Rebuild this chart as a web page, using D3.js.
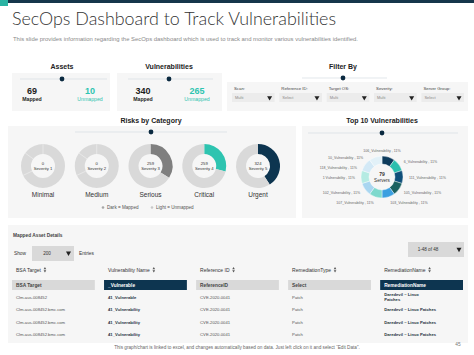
<!DOCTYPE html>
<html><head><meta charset="utf-8">
<script src="https://cdn.jsdelivr.net/npm/d3@7"></script>
<style>html,body{margin:0;padding:0;background:#fff;} svg{display:block;font-family:"Liberation Sans",Arial,sans-serif;}</style>
</head><body><svg id="c" width="474" height="355"></svg>
<script>
// ---------------- DATA ----------------
const titleText = "SecOps Dashboard to Track Vulnerabilities";
const subtitleText = "This slide provides information regarding the SecOps dashboard which is used to track and monitor various vulnerabilities identified.";
const countLabels = ["Mapped", "Unmapped"];
const assetValues = [69, 10];
const vulnValues = [340, 265];
const filterLabels = ["Scan:", "Reference ID:", "Target OS:", "Severity:", "Server Group:"];
const filterValues = ["Multi", "Select", "Multi", "Multi", "Select"];
const riskCategories = ["Minimal", "Medium", "Serious", "Critical", "Urgent"];
const severityLabels = ["Severity 1", "Severity 2", "Severity 3", "Severity 4", "Severity 5"];
const severityTotals = [0, 0, 259, 259, 324];
const severityMapped = [0, 0, 88, 75, 133];
const legendLabels = ["Dark = Mapped", "Light = Unmapped"];
const topVulnNames = ["106_Vulnerability", "6_Vulnerability", "111_Vulnerability", "105_Vulnerability", "103_Vulnerability",
  "107_Vulnerability", "102_Vulnerability", "1 Vulnerability", "118_Vulnerability", "10_Vulnerability"];
const topVulnShares = [11, 11, 11, 11, 11, 11, 11, 11, 11, 11];
const serverCount = 79;
const pageInfo = "1-48 of 48";
const showEntries = "200";
const tableColumns = ["BSA Target", "Vulnerability Name", "Reference ID", "RemediationType", "RemediationName"];
const tableFilters = ["BSA Target", "_Vulnerable", "ReferenceID", "Select", "RemediationName"];
const bsaTargets = ["Clm-aus-008452", "Clm-aus-008452.bmc.com", "Clm-aus-008452.bmc.com", "Clm-aus-008452.bmc.com"];
const vulnNames = ["41_Vulnerable", "41_Vulnerability", "41_Vulnerability", "41_Vulnerability"];
const referenceIds = ["CVE-2020-0041", "CVE-2020-0041", "CVE-2020-0041", "CVE-2020-0041"];
const remediationTypes = ["Patch", "Patch", "Patch", "Patch"];
const remediationNames = ["Daredevil – Linux\nPatches", "Daredevil – Linux Patches", "Daredevil – Linux Patches", "Daredevil – Linux Patches"];
const footerText = "This graph/chart is linked to excel, and changes automatically based on data. Just left click on it and select \u201CEdit Data\u201D.";
const pageNumber = "45";

// ---------------- STYLE ----------------
const NAVY = "#0d3550", TEAL = "#2ec4b0", LIGHT = "#d9d9d9", PANEL = "#f6f6f6";
const svg = d3.select("#c");
const tri = d3.symbol(d3.symbolTriangle).size(11);
function arrow(g, x, y, col) {
  g.append("path").attr("d", tri()).attr("transform", `translate(${x},${y}) rotate(180)`).attr("fill", col || "#222");
}
function panel(x, y, w, h) {
  svg.append("rect").attr("x", x).attr("y", y).attr("width", w).attr("height", h).attr("fill", PANEL);
}
function sectionTitle(text, cx, ty, x1, x2, ly) {
  svg.append("text").attr("x", cx).attr("y", ty).attr("text-anchor", "middle")
    .attr("font-size", 7).attr("font-weight", "bold").attr("fill", "#222").text(text);
  svg.append("line").attr("x1", x1).attr("x2", x2).attr("y1", ly).attr("y2", ly).attr("stroke", "#d6dde3").attr("stroke-width", 0.7);
  svg.append("circle").attr("cx", cx).attr("cy", ly).attr("r", 2.4).attr("fill", "#0b2a40");
}

// top bar
svg.append("rect").attr("x", 0).attr("y", 0).attr("width", 474).attr("height", 3).attr("fill", "#16364b");
svg.append("rect").attr("x", 0).attr("y", 0).attr("width", 8).attr("height", 6).attr("fill", "#2bb3a3");

svg.append("text").attr("x", 12).attr("y", 25).attr("font-family", "Lato, 'DejaVu Sans', sans-serif").attr("font-weight", 300)
  .attr("font-size", 17).attr("fill", "#333").attr("textLength", 324).attr("lengthAdjust", "spacingAndGlyphs").text(titleText);
svg.append("text").attr("x", 13).attr("y", 41).attr("font-size", 4.8).attr("fill", "#8a8a8a")
  .attr("textLength", 345).attr("lengthAdjust", "spacingAndGlyphs").text(subtitleText);

// panels
panel(12, 73, 98, 38);
panel(117, 73, 105, 38);
panel(227, 82, 241, 29);
panel(8, 126, 288, 92);
panel(302, 126, 166, 92);
panel(8, 225, 460, 118);

// ---------------- COUNT CARDS ----------------
sectionTitle("Assets", 62, 69, 20, 107, 79);
sectionTitle("Vulnerabilities", 169, 69, 128, 213, 79);
function counts(values, range) {
  const x = d3.scalePoint().domain(countLabels).range(range);
  countLabels.forEach((lab, i) => {
    const col = i === 0 ? "#1d1d1d" : TEAL;
    svg.append("text").attr("x", x(lab)).attr("y", 94).attr("text-anchor", "middle").attr("font-size", 9)
      .attr("font-weight", "bold").attr("fill", col).text(values[i]);
    svg.append("text").attr("x", x(lab)).attr("y", 101).attr("text-anchor", "middle").attr("font-size", 5.2)
      .attr("font-weight", i === 0 ? "bold" : "normal").attr("fill", col).text(lab);
  });
}
counts(assetValues, [32, 90]);
counts(vulnValues, [143, 197]);

// ---------------- FILTER ----------------
sectionTitle("Filter By", 343, 69, 302, 387, 78);
const fx = d3.scaleBand().domain(filterLabels).range([232, 464]).paddingInner(0.1);
filterLabels.forEach((lab, i) => {
  const x0 = fx(lab), bw = fx.bandwidth();
  svg.append("text").attr("x", x0 + 2).attr("y", 90).attr("font-size", 4.3).attr("fill", "#444").text(lab);
  svg.append("rect").attr("x", x0).attr("y", 93).attr("width", bw).attr("height", 9).attr("fill", "#ececec");
  svg.append("text").attr("x", x0 + 3).attr("y", 99.3).attr("font-size", 4).attr("fill", "#888").text(filterValues[i]);
  arrow(svg, x0 + bw - 5, 97.6);
});

// ---------------- RISKS BY CATEGORY ----------------
sectionTitle("Risks by Category", 151, 123, 75, 227, 132);
const rx = d3.scalePoint().domain(riskCategories).range([43, 258]);
const riskColors = ["#7f7f7f", "#7f7f7f", "#7f7f7f", TEAL, NAVY];
const rArc = d3.arc().innerRadius(12).outerRadius(22);
const rPie = d3.pie().sort(null);
riskCategories.forEach((cat, i) => {
  const g = svg.append("g").attr("transform", `translate(${rx(cat)},166)`);
  const tot = severityTotals[i], m = severityMapped[i];
  const parts = tot > 0 ? [m, tot - m] : [0, 1];
  const arcs = rPie(parts);
  g.selectAll("path").data(arcs).join("path").attr("d", rArc)
    .attr("fill", (d, j) => j === 0 ? riskColors[i] : LIGHT);
  if (tot === 0) {
    [0, 0.68, 0.85].forEach(f => {
      const a = f * 2 * Math.PI;
      g.append("line").attr("x1", 12 * Math.sin(a)).attr("y1", -12 * Math.cos(a))
        .attr("x2", 22 * Math.sin(a)).attr("y2", -22 * Math.cos(a)).attr("stroke", "#eeeeee").attr("stroke-width", 0.7);
    });
  }
  g.append("text").attr("y", -1.5).attr("text-anchor", "middle").attr("font-size", 4.2).attr("fill", "#333").text(tot);
  g.append("text").attr("y", 4).attr("text-anchor", "middle").attr("font-size", 4.2).attr("fill", "#333").text(severityLabels[i]);
  svg.append("text").attr("x", rx(cat)).attr("y", 197).attr("text-anchor", "middle").attr("font-size", 6.5)
    .attr("fill", "#333").text(cat);
});
const lx = d3.scalePoint().domain(legendLabels).range([103, 152]);
legendLabels.forEach((lab, i) => {
  svg.append("circle").attr("cx", lx(lab)).attr("cy", 207.5).attr("r", 1.3).attr("fill", i === 0 ? "#a6a6a6" : "#c8c8c8");
  svg.append("text").attr("x", lx(lab) + 4).attr("y", 209.3).attr("font-size", 4.6).attr("fill", "#555").text(lab);
});

// ---------------- TOP 10 ----------------
sectionTitle("Top 10 Vulnerabilities", 382, 123, 308, 458, 133);
const tColors = ["#0d3b5c", "#2bbfae", "#0f4f7a", "#1b6160", "#3a9fe0", "#7ed9cd", "#a9d6f0", "#b5ebe3", "#d3e9f6", "#e2f1f8"];
const tPie = d3.pie().sort(null)(topVulnShares);
const tArc = d3.arc().innerRadius(13).outerRadius(21);
const tg = svg.append("g").attr("transform", "translate(382,177)");
tg.selectAll("path").data(tPie).join("path").attr("d", tArc).attr("fill", (d, i) => tColors[i])
  .attr("stroke", "#fff").attr("stroke-width", 0.4);
tg.append("text").attr("y", -1.5).attr("text-anchor", "middle").attr("font-size", 5).attr("font-weight", "bold").attr("fill", "#333").text(serverCount);
tg.append("text").attr("y", 4.5).attr("text-anchor", "middle").attr("font-size", 4.6).attr("fill", "#333").text("Servers");
tPie.forEach((d, i) => {
  // label angle = slice mid-angle; the upper-left labels are nudged down to avoid the top label
  let a = (d.startAngle + d.endAngle) / 2;
  if (i === 0) a = 0;
  if (i === 8) a -= 0.25;
  if (i === 9) a -= 0.45;
  const s = Math.sin(a), c = Math.cos(a);
  const anchor = i === 0 ? "middle" : (s > 0 ? "start" : "end");
  const x = s * 27, y = -c * 27 + 1.5;
  tg.append("text").attr("x", x).attr("y", y).attr("text-anchor", anchor).attr("font-size", 3.6).attr("fill", "#666")
    .text(`${topVulnNames[i]} , ${topVulnShares[i]}%`);
});

// ---------------- TABLE ----------------
svg.append("text").attr("x", 13).attr("y", 237).attr("font-size", 4.8).attr("font-weight", "bold").attr("fill", "#444").text("Mapped Asset Details");
svg.append("rect").attr("x", 408).attr("y", 242).attr("width", 56).attr("height", 15).attr("fill", LIGHT);
svg.append("text").attr("x", 428).attr("y", 251.3).attr("text-anchor", "middle").attr("font-size", 4.6).attr("fill", "#333").text(pageInfo);
arrow(svg, 459, 249.3);
svg.append("text").attr("x", 14).attr("y", 255).attr("font-size", 4.8).attr("fill", "#333").text("Show");
svg.append("rect").attr("x", 32).attr("y", 246).attr("width", 42).attr("height", 15).attr("fill", LIGHT);
svg.append("text").attr("x", 47).attr("y", 255).attr("text-anchor", "middle").attr("font-size", 4.6).attr("fill", "#333").text(showEntries);
arrow(svg, 68.5, 253);
svg.append("text").attr("x", 79).attr("y", 255).attr("font-size", 4.8).attr("fill", "#333").text("Entries");

const cx = d3.scaleBand().domain(tableColumns).range([12, 463]).paddingInner(0.1);
tableColumns.forEach((col, i) => {
  const x0 = cx(col), bw = cx.bandwidth();
  const t = svg.append("text").attr("x", x0 + 4).attr("y", 271.5).attr("font-size", 5).attr("fill", "#333").text(col);
  const w = t.node().getComputedTextLength();
  svg.append("path").attr("d", d3.symbol(d3.symbolTriangle).size(3)()).attr("transform", `translate(${x0 + w + 8},268.6)`).attr("fill", "#555");
  svg.append("path").attr("d", d3.symbol(d3.symbolTriangle).size(3)()).attr("transform", `translate(${x0 + w + 8},271) rotate(180)`).attr("fill", "#555");
  const dark = i === 1 || i === 4;
  svg.append("rect").attr("x", x0).attr("y", 280).attr("width", bw).attr("height", 10).attr("fill", dark ? NAVY : LIGHT);
  svg.append("text").attr("x", x0 + 4).attr("y", 286.8).attr("font-size", 4.8).attr("font-weight", "bold")
    .attr("fill", dark ? "#fff" : "#444").text(tableFilters[i]);
});
const rows = d3.range(bsaTargets.length).map(i => [bsaTargets[i], vulnNames[i], referenceIds[i], remediationTypes[i], remediationNames[i]]);
const ry = d3.scaleBand().domain(d3.range(rows.length)).range([291, 341]);
rows.forEach((r, ri) => {
  const yc = ry(ri) + ry.bandwidth() / 2;
  r.forEach((cell, ci) => {
    const lines = String(cell).split("\n");
    const t = svg.append("text").attr("x", cx(tableColumns[ci]) + 4).attr("font-size", 4.2)
      .attr("fill", (ci === 1 || ci === 4) ? "#1f3340" : "#555").attr("font-weight", (ci === 1 || ci === 4) ? "bold" : "normal");
    lines.forEach((ln, k) => {
      t.append("tspan").attr("x", cx(tableColumns[ci]) + 4)
        .attr("y", yc + 1.5 + (k - (lines.length - 1) / 2) * 5).text(ln);
    });
  });
});

svg.append("text").attr("x", 237).attr("y", 349).attr("text-anchor", "middle").attr("font-size", 4.7).attr("fill", "#666").text(footerText);
svg.append("text").attr("x", 458).attr("y", 346).attr("text-anchor", "middle").attr("font-size", 4.8).attr("fill", "#777").text(pageNumber);
</script></body></html>
